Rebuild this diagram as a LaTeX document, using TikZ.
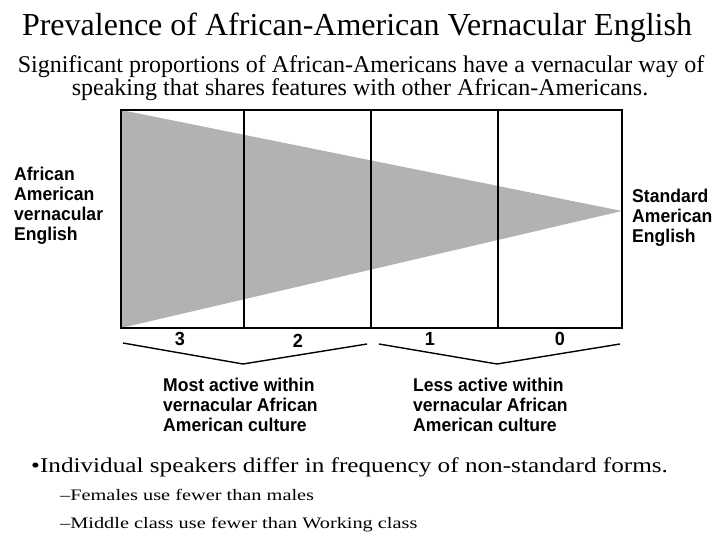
\documentclass[tikz,border=0pt]{standalone}
\usepackage{fontspec}
\setmainfont{Liberation Serif}
\newfontfamily\bulletfont{Liberation Serif}[FakeStretch=1.2,Ligatures=TeX]
\newfontfamily\subfont{Liberation Serif}[FakeStretch=1.27,Ligatures=TeX]
\newfontfamily\labelfont{Liberation Sans}[FakeStretch=0.95]
\usepackage{xcolor}
\usepackage{tikz}

\definecolor{wedgegray}{RGB}{178,178,178}

\tikzset{
  chartlabel/.style={align=left, inner sep=0pt, font=\labelfont\bfseries\fontsize{18.5}{20}\selectfont},
  scalenum/.style={font=\labelfont\bfseries\fontsize{19}{20}\selectfont},
  frameline/.style={line width=1.6pt},
  subitem/.style={anchor=base west, inner sep=0pt, font=\subfont\fontsize{16}{18}\selectfont}
}

\begin{document}
\begin{tikzpicture}[x=1pt,y=-1pt]
\useasboundingbox (0,0) rectangle (720,540);

\node (title) [anchor=base, font=\fontsize{32}{36}\selectfont] at (357,36) {Prevalence of African-American Vernacular English};
\node (subtitle1) [anchor=base, font=\fontsize{24}{28}\selectfont] at (361,73) {Significant proportions of African-Americans have a vernacular way of};
\node (subtitle2) [anchor=base, font=\fontsize{24}{28}\selectfont] at (360,96) {speaking that shares features with other African-Americans.};

\coordinate (topleft) at (121,110);
\coordinate (botleft) at (121,328);
\coordinate (apex) at (622,211);

\fill[wedgegray] (topleft) -- (apex) -- (botleft) -- cycle;
\draw[frameline] (121,110) rectangle (622,328);
\draw[frameline] (244,110) -- (244,328);
\draw[frameline] (371,110) -- (371,328);
\draw[frameline] (498,110) -- (498,328);

\node (aave) [chartlabel, anchor=north west] at (14,167) {African\\ American\\ vernacular\\ English};
\node (sae) [chartlabel, anchor=north west] at (632,189) {Standard\\ American\\ English};

\node (three) [scalenum] at (180,339) {3};
\node (two) [scalenum] at (298,341) {2};
\node (one) [scalenum] at (430,339) {1};
\node (zero) [scalenum] at (560,339) {0};

\coordinate (bl1) at (123,343);
\coordinate (bm1) at (243,364);
\coordinate (br1) at (367,344);
\coordinate (bl2) at (379,344);
\coordinate (bm2) at (497,364);
\coordinate (br2) at (620,344);
\draw[line width=1.4pt] (bl1) -- (bm1) -- (br1);
\draw[line width=1.4pt] (bl2) -- (bm2) -- (br2);

\node (most) [chartlabel, anchor=north west] at (163,378) {Most active within\\ vernacular African\\ American culture};
\node (less) [chartlabel, anchor=north west] at (413,378) {Less active within\\ vernacular African\\ American culture};

\node (bullet) [anchor=base west, inner sep=0pt, font=\bulletfont\fontsize{21}{24}\selectfont] at (31,472) {\textbullet Individual speakers differ in frequency of non-standard forms.};
\node (females) [subitem] at (60,500) {--Females use fewer than males};
\node (middle) [subitem] at (60,528) {--Middle class use fewer than Working class};

\end{tikzpicture}
\end{document}
